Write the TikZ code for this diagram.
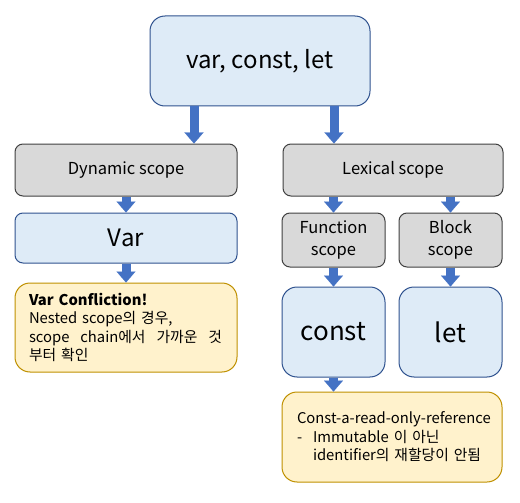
\documentclass[tikz,border=0pt]{standalone}
\usepackage{fontspec}
\setmainfont{Noto Sans CJK KR}
\usetikzlibrary{arrows.meta,calc}
\definecolor{bfill}{HTML}{DEEBF7}
\definecolor{bline}{HTML}{2F528F}
\definecolor{gfill}{HTML}{D9D9D9}
\definecolor{gline}{HTML}{404040}
\definecolor{yfill}{HTML}{FFF2CC}
\definecolor{yline}{HTML}{BF9000}
\definecolor{arrblue}{HTML}{4472C4}
\tikzset{
  bluebox/.style={draw=bline, fill=bfill, line width=1pt, rounded corners=#1, inner sep=0pt},
  graybox/.style={draw=gline, fill=gfill, line width=1pt, rounded corners=8pt, inner sep=0pt},
  yellowbox/.style={draw=yline, fill=yfill, line width=1pt, rounded corners=15pt, inner sep=0pt},
  blockarr/.style={arrblue, line width=9pt, -{Triangle[width=19pt,length=11pt,line width=0.1pt]}},
}
\begin{document}
\begin{tikzpicture}[x=1pt,y=-1pt]
\useasboundingbox (0,0) rectangle (520,503);

\node[bluebox=15pt, minimum width=220pt, minimum height=90pt, font=\fontsize{24}{28}\selectfont] (top) at (260,61) {var, const, let};

\node[graybox, minimum width=222pt, minimum height=52pt, font=\fontsize{16.5}{20}\selectfont] (dyn) at (126,170) {Dynamic scope};
\node[graybox, minimum width=220pt, minimum height=52pt, font=\fontsize{16.5}{20}\selectfont] (lex) at (393,170) {Lexical scope};

\node[bluebox=8pt, minimum width=222pt, minimum height=50pt, font=\fontsize{24}{28}\selectfont] (var) at (126,238) {Var};

\node[yellowbox, minimum width=222pt, minimum height=89pt, text width=194pt, align=left, font=\fontsize{14.8}{18.5}\selectfont] (conf) at (126,327.5)
  {\textbf{Var Confliction!}\\Nested scope의 경우,\\\makebox[193pt][l]{scope\hfill chain에서\hfill 가까운\hfill 것}\\부터 확인};

\node[graybox, minimum width=103pt, minimum height=54pt, align=center, font=\fontsize{16.5}{22}\selectfont] (fun) at (333.5,240) {Function\\scope};
\node[graybox, minimum width=103pt, minimum height=54pt, align=center, font=\fontsize{16.5}{22}\selectfont] (blk) at (450.5,240) {Block\\scope};

\node[bluebox=15pt, minimum width=103pt, minimum height=90pt, font=\fontsize{26}{30}\selectfont] (cst) at (333.5,332) {const};
\node[bluebox=15pt, minimum width=103pt, minimum height=90pt, font=\fontsize{26}{30}\selectfont] (let) at (450.5,332) {let};

\node[yellowbox, minimum width=220pt, minimum height=90pt, text width=190pt, align=left, font=\fontsize{14.8}{18.5}\selectfont] (ro) at (392,437)
  {\mbox{Const-a-read-only-reference}\\\makebox[16pt][l]{-}Immutable 이 아닌\\\hspace*{16pt}\mbox{identifier의 재할당이 안됨}};

\coordinate (c1) at (194,0);
\coordinate (c2) at (334,0);
\draw[blockarr] (top.south -| c1) -- (dyn.north -| c1);
\draw[blockarr] (top.south -| c2) -- (lex.north -| c2);
\draw[blockarr] (dyn.south) -- (var.north);
\draw[blockarr] (var.south) -- (conf.north);
\draw[blockarr] (lex.south -| fun.north) -- (fun.north);
\draw[blockarr] (lex.south -| blk.north) -- (blk.north);
\draw[blockarr] (fun.south) -- (cst.north);
\draw[blockarr] (blk.south) -- (let.north);
\draw[blockarr] (cst.south) -- (cst.south |- ro.north);
\end{tikzpicture}
\end{document}
